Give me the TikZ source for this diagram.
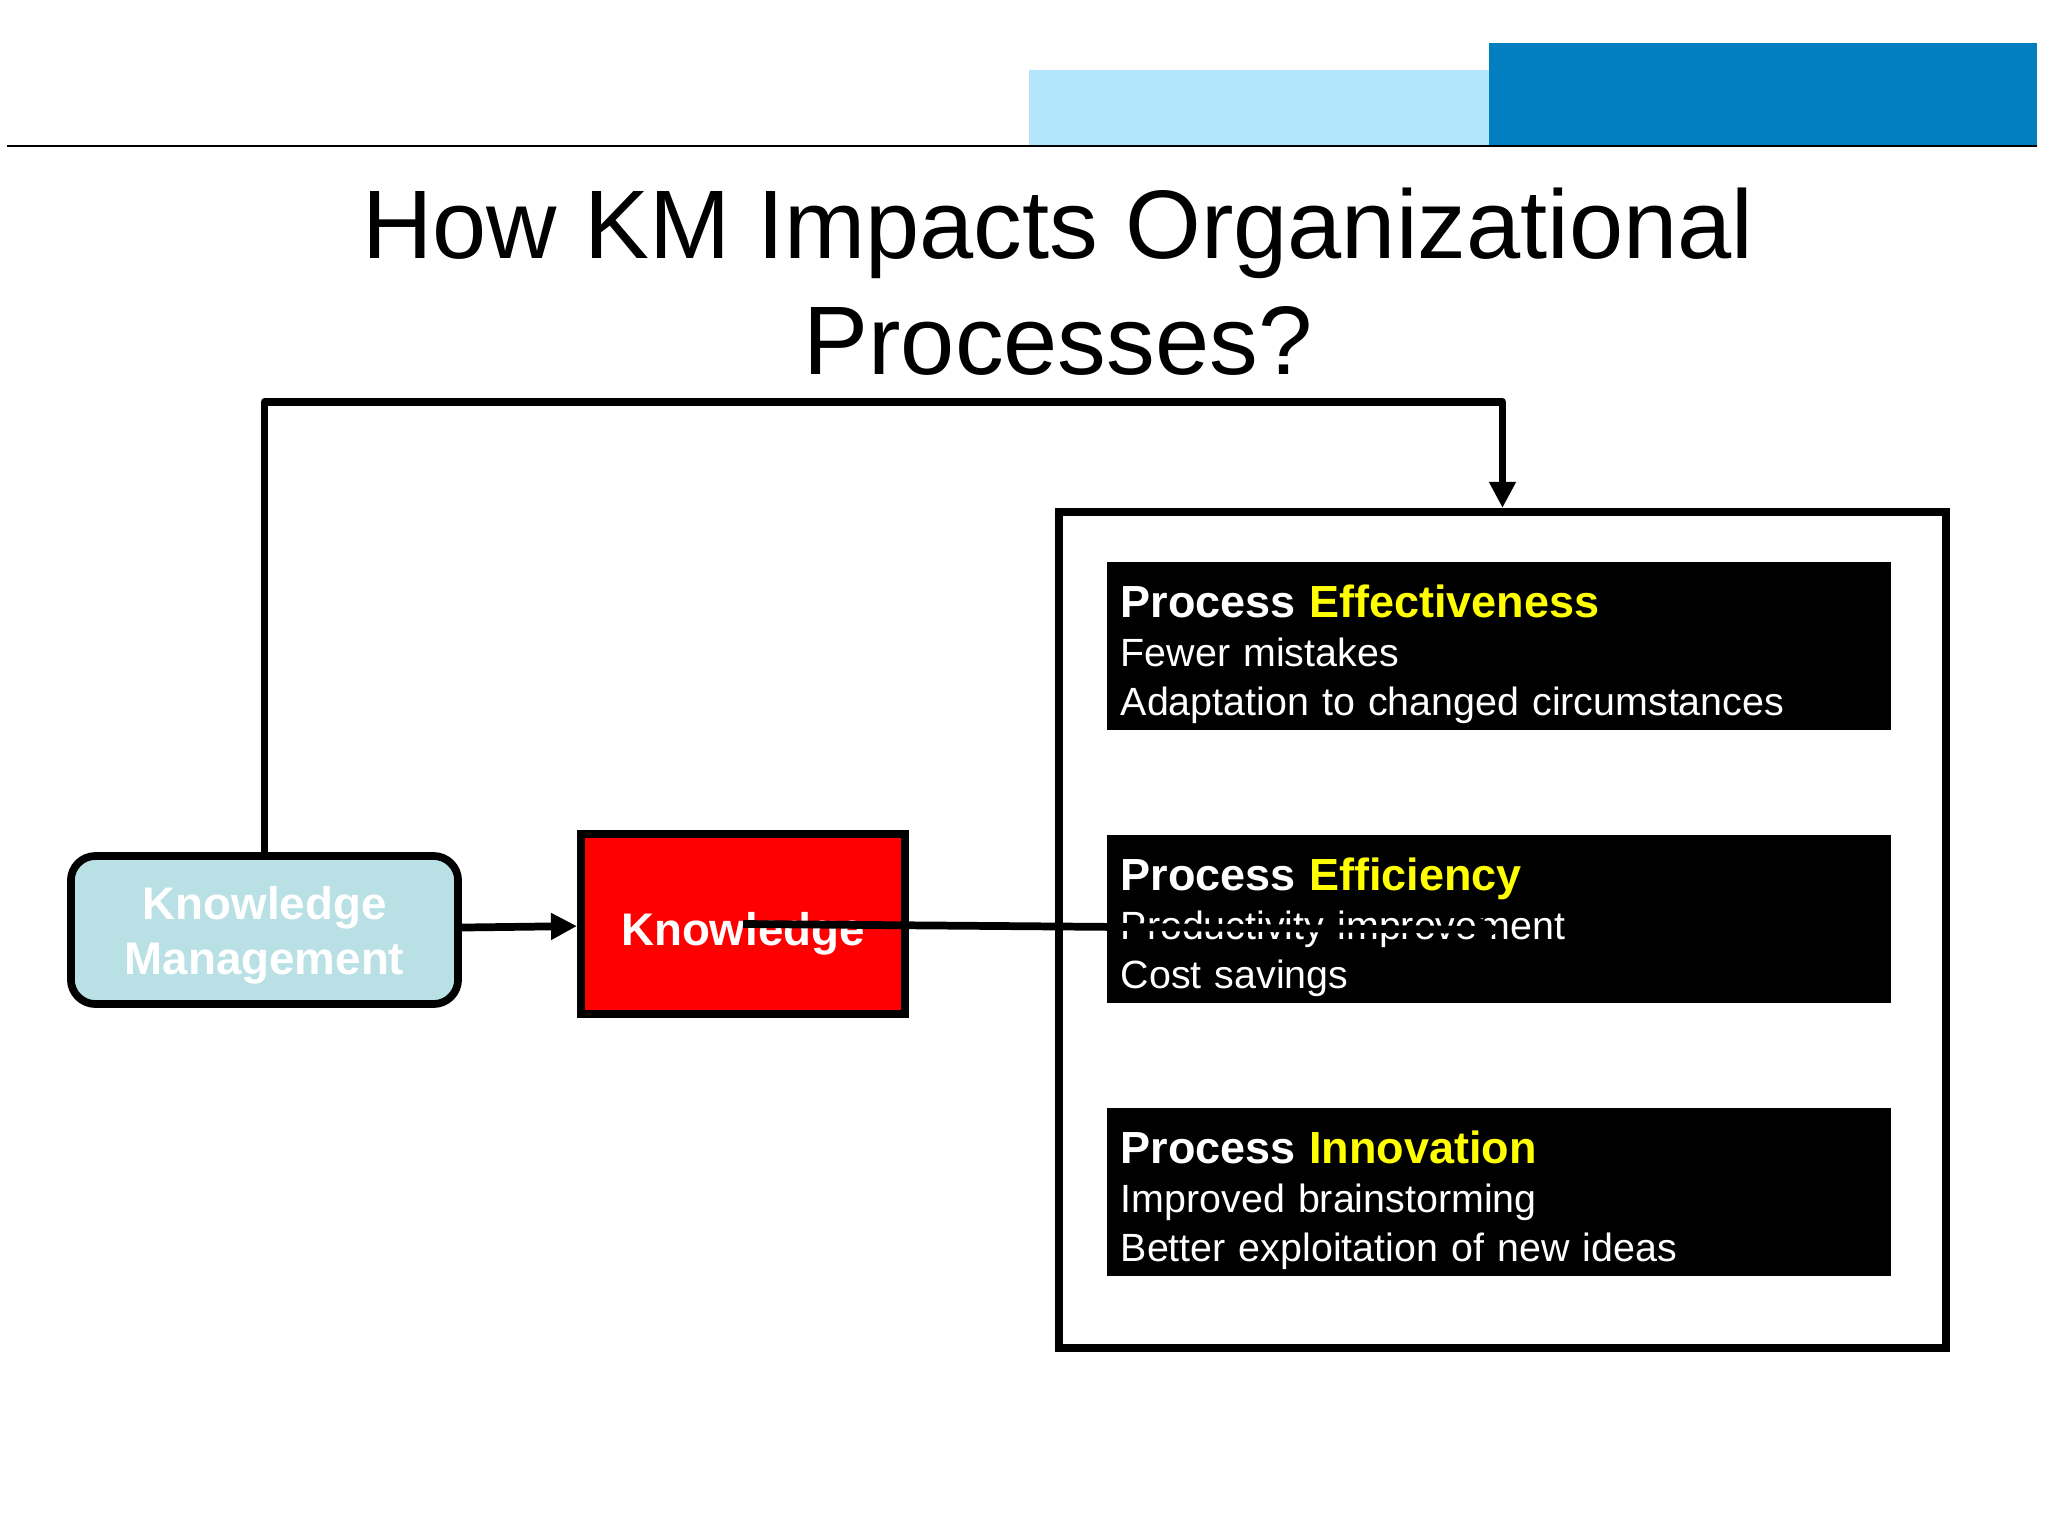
\documentclass[tikz,border=0pt]{standalone}
\usepackage{fontspec}
\setmainfont{Liberation Sans}
\usepackage{tikz}
\usetikzlibrary{arrows.meta}
\usetikzlibrary{positioning}

\definecolor{barlight}{RGB}{179,229,252}
\definecolor{bardark}{RGB}{2,127,192}
\definecolor{kmfill}{RGB}{185,224,228}
\definecolor{hiyellow}{RGB}{255,255,0}

\tikzset{
    conn/.style={line width=2.2pt, line join=round, -{Triangle[length=7.4pt,width=7.2pt]}},
    procbox/.style={fill=black, text=white, align=left, text width=7.56cm,
        inner xsep=0.14cm, inner ysep=0pt, minimum height=1.68cm,
        font=\fontsize{11.2}{14}\selectfont}
}

\begin{document}
\begin{tikzpicture}[x=0.01cm, y=-0.01cm]
        \useasboundingbox [fill=white] (0, 0) rectangle (2048, 1536);
        % banner at the top
        \fill [barlight] (1029, 70) rectangle (1489, 146);
        \fill [bardark] (1489, 43) rectangle (2037, 146);
        \draw [line width=0.7pt] (7, 146) -- (2037, 146);
        \node [align=center, font=\fontsize{27.7}{33}\selectfont] (title) at (1058, 282)
            {How KM Impacts Organizational\\Processes?};

        \node [draw, line width=2.2pt, rounded corners=7pt, fill=kmfill, text=white,
            align=center, font=\fontsize{13}{15.6}\selectfont\bfseries,
            minimum width=3.87cm, minimum height=1.48cm] (km) at (264.5, 930)
            {\rule{0pt}{12.3pt}Knowledge\\Management};
        \node [draw, line width=2.2pt, fill=red, text=white,
            font=\fontsize{13}{15.6}\selectfont\bfseries, text height=12.1pt, text depth=0.1pt,
            minimum width=3.24cm, minimum height=1.80cm] (know) at (743, 924) {Knowledge};
        \node [draw, line width=2.2pt, minimum width=8.87cm, minimum height=8.36cm]
            (outer) at (1502.5, 930) {};

        \node [procbox] (effect) at (1499, 646)
            {\rule{0pt}{14pt}{\fontsize{12.8}{14}\selectfont\bfseries Process \textcolor{hiyellow}{Effectiveness}}\\
             Fewer mistakes\\Adaptation to changed circumstances};
        \node [procbox] (effic) at (1499, 919)
            {\rule{0pt}{14pt}{\fontsize{12.8}{14}\selectfont\bfseries Process \textcolor{hiyellow}{Efficiency}}\\
             Productivity improvement\\Cost savings};
        \node [procbox] (innov) at (1499, 1192)
            {\rule{0pt}{14pt}{\fontsize{12.8}{14}\selectfont\bfseries Process \textcolor{hiyellow}{Innovation}}\\
             Improved brainstorming\\Better exploitation of new ideas};

        \coordinate (fbturn) at (264.5, 402);
        \draw [conn] (km.north) -- (fbturn) -| (outer.north);
        \draw [conn] (km) -- (know);
        \draw [conn] (know.center) -- (outer.center);
\end{tikzpicture}
\end{document}
